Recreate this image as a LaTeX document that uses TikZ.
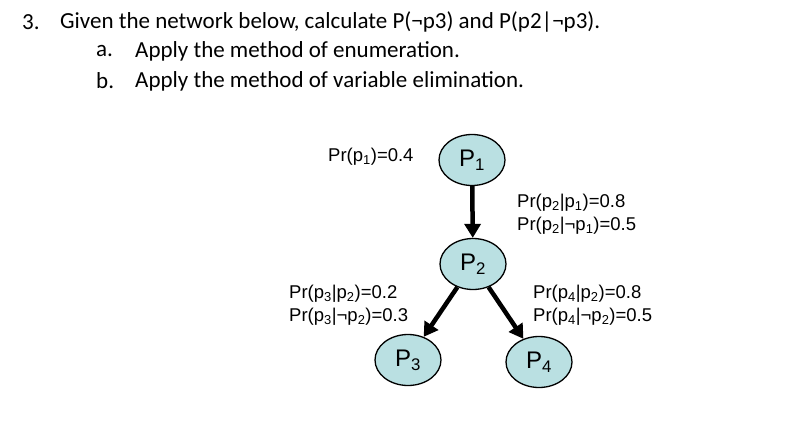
\documentclass[tikz,border=0pt]{standalone}
\usepackage{fontspec}
\setmainfont{Carlito}
\newfontfamily\arial{Liberation Sans}
\usetikzlibrary{shapes.geometric,arrows.meta}
\definecolor{nodefill}{RGB}{186,224,226}
\newcommand{\sbs}[1]{\textsubscript{#1}}
\begin{document}
\begin{tikzpicture}[x=1pt,y=-1pt,
  hdr/.style={anchor=west,inner sep=0pt,font=\fontsize{23}{26}\selectfont},
  pnode/.style={ellipse,draw=black,line width=1.3pt,fill=nodefill,minimum width=66pt,minimum height=51pt,inner sep=0pt,font=\arial\fontsize{24}{26}\selectfont},
  plabel/.style={anchor=west,inner sep=0pt,align=left,font=\arial\fontsize{18.5}{23}\selectfont},
  edge/.style={line width=4.5pt,-{Triangle[length=14pt,width=16pt]}}]
\useasboundingbox (0,0) rectangle (803,447);
\node[hdr] (n3) at (22,22) {3.};
\node[hdr] (q) at (60,22) {Given the network below, calculate P(¬p3) and P(p2|¬p3).};
\node[hdr] (na) at (96,51) {a.};
\node[hdr] (ta) at (135,51) {Apply the method of enumeration.};
\node[hdr] (nb) at (96,81) {b.};
\node[hdr] (tb) at (135,81) {Apply the method of variable elimination.};
\node[pnode] (P1) at (472,160) {P\sbs{1}};
\node[pnode] (P2) at (473,264) {P\sbs{2}};
\node[pnode] (P3) at (408,360) {P\sbs{3}};
\node[pnode] (P4) at (539,362) {P\sbs{4}};
\draw[edge] (P1) -- (P2);
\draw[edge] (P2) -- (P3);
\draw[edge] (P2) -- (P4);
\node[plabel] (l1) at (328,157) {Pr(p\sbs{1})=0.4};
\node[plabel] (l2) at (517,214) {Pr(p\sbs{2}|p\sbs{1})=0.8\\Pr(p\sbs{2}|¬p\sbs{1})=0.5};
\node[plabel] (l3) at (289,305) {Pr(p\sbs{3}|p\sbs{2})=0.2\\Pr(p\sbs{3}|¬p\sbs{2})=0.3};
\node[plabel] (l4) at (533,305) {Pr(p\sbs{4}|p\sbs{2})=0.8\\Pr(p\sbs{4}|¬p\sbs{2})=0.5};
\end{tikzpicture}
\end{document}
